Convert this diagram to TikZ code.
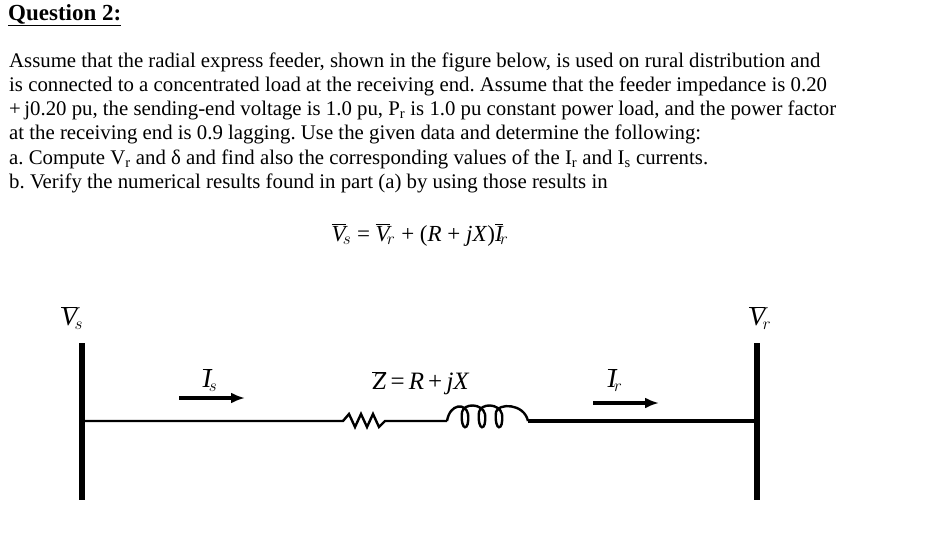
\documentclass[tikz,border=0pt]{standalone}
\usepackage{fontspec}
\setmainfont{Liberation Serif}
\usetikzlibrary{arrows.meta}
\newcommand{\ovl}[2]{$\overline{\mbox{\itshape #1}}_{\!#2}$}
\begin{document}
\frenchspacing
\begin{tikzpicture}[x=1pt,y=-1pt,
  txt/.style={anchor=west,inner sep=0pt,font=\fontsize{20.8}{23}\selectfont},
  bus/.style={line width=6pt},
  wire/.style={line width=2.4pt},
  cur/.style={line width=3.2pt,-{Latex[length=14pt,width=11pt]}},
  lab/.style={inner sep=0pt,font=\fontsize{27}{29}\selectfont}]
\useasboundingbox (0,0) rectangle (939,540);
\node[txt,font=\bfseries\fontsize{23}{25}\selectfont] (title) at (8,15) {\underline{Question 2:}};
\node[txt] (l1) at (9,62) {Assume that the radial express feeder, shown in the figure below, is used on rural distribution and};
\node[txt] (l2) at (9,86) {is connected to a concentrated load at the receiving end. Assume that the feeder impedance is 0.20};
\node[txt] (l3) at (9,110) {+\,j0.20 pu, the sending-end voltage is 1.0 pu, P\textsubscript{r} is 1.0 pu constant power load, and the power factor};
\node[txt] (l4) at (9,134) {at the receiving end is 0.9 lagging. Use the given data and determine the following:};
\node[txt] (l5) at (9,159) {a. Compute V\textsubscript{r} and δ and find also the corresponding values of the I\textsubscript{r} and I\textsubscript{s} currents.};
\node[txt] (l6) at (9,183) {b. Verify the numerical results found in part (a) by using those results in};
\node[inner sep=0pt,font=\fontsize{23}{25}\selectfont] (eq) at (420,235) {\ovl{V}{s} = \ovl{V}{r} + (\textit{R} + \textit{jX})\ovl{I}{r}};
% buses
\coordinate (lt) at (82,343); \coordinate (lb) at (82,500);
\coordinate (rt) at (757,343); \coordinate (rb) at (757,500);
\draw[bus] (lt) -- (lb);
\draw[bus] (rt) -- (rb);
\coordinate (a) at (82,421); \coordinate (r1) at (343,421); \coordinate (r2) at (391,421);
\coordinate (i1) at (447,421); \coordinate (i2) at (528,421); \coordinate (b) at (757,421);
\draw[wire] (a) -- (r1) -- ++(6,-7) -- ++(6,13) -- ++(6,-13) -- ++(6,13) -- ++(6,-13) -- ++(6,13) -- ++(6,-6) -- (r2) -- (i1);
\draw[wire] (i1) .. controls (450,403) and (466,403) .. (468,414)
  .. controls (470,432) and (460,432) .. (462,412)
  .. controls (464,403) and (482,403) .. (485,414)
  .. controls (487,432) and (477,432) .. (479,412)
  .. controls (481,403) and (499,403) .. (502,414)
  .. controls (504,432) and (494,432) .. (496,412)
  .. controls (498,403) and (524,403) .. (i2);
\draw[line width=3.2pt] (i2) -- (b);
\node[lab] (vs) at (72,318) {\ovl{V}{s}};
\node[lab] (vr) at (760,318) {\ovl{V}{r}};
\node[lab] (is) at (210,380) {\ovl{I}{s}};
\node[lab] (ir) at (615,380) {\ovl{I}{r}};
\node[lab,font=\fontsize{25}{27}\selectfont] (z) at (421,383) {$\overline{\mbox{\itshape Z}}$\,=\,\textit{R}\,+\,\textit{jX}};
\coordinate (is1) at (179,398); \coordinate (is2) at (245,398);
\coordinate (ir1) at (593,403); \coordinate (ir2) at (659,403);
\draw[cur] (is1) -- (is2);
\draw[cur] (ir1) -- (ir2);
\end{tikzpicture}
\end{document}
